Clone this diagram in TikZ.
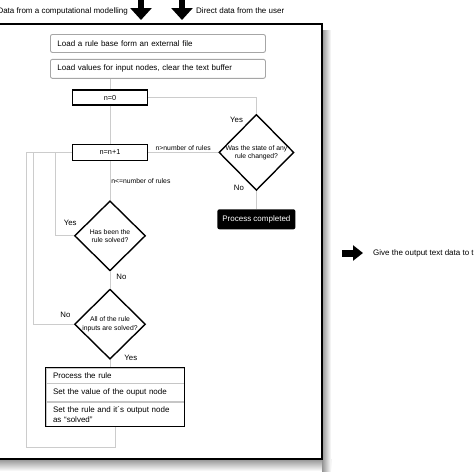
\documentclass[tikz,border=0pt]{standalone}
\usepackage{fontspec}
\setmainfont{Liberation Sans}
\usetikzlibrary{shapes.geometric, arrows.meta, positioning, fit, calc}
\tikzset{
    loadbox/.style={rectangle, rounded corners=2pt, draw=gray!70, line width=0.9pt, minimum width=215pt, minimum height=18pt, text width=201pt, inner xsep=7pt, inner ysep=0pt, align=left, font=\fontsize{8}{9}\selectfont},
    counter/.style={rectangle, draw=black, line width=1.4pt, minimum width=75pt, minimum height=15pt, inner sep=0pt, font=\fontsize{7.3}{8}\selectfont},
    decision/.style={diamond, draw=black, line width=1.4pt, minimum width=71pt, minimum height=70pt, inner sep=0pt},
    dtext/.style={align=center, inner sep=0pt, font=\fontsize{6.8}{8.2}\selectfont},
    finish/.style={rectangle, rounded corners=2pt, fill=black, text=white, minimum width=78pt, minimum height=20pt, inner sep=0pt, font=\fontsize{8}{9}\selectfont},
    rowbox/.style={rectangle, draw=gray!45, line width=0.7pt, minimum width=138pt, text width=124pt, inner xsep=7pt, inner ysep=0pt, align=left, font=\fontsize{8}{10}\selectfont},
    groupbox/.style={rectangle, draw=black, line width=1.4pt, inner sep=0pt},
    wire/.style={draw=gray!40, line width=0.9pt},
    cond/.style={inner sep=1pt, font=\fontsize{6.8}{8}\selectfont},
    yesno/.style={inner sep=1pt, font=\fontsize{7.8}{9}\selectfont},
    intext/.style={inner sep=1pt, font=\fontsize{8}{9}\selectfont},
    bigarrow/.style={line width=6pt, -{Triangle[width=21pt, length=12pt]}},
    sidearrow/.style={line width=7pt, -{Triangle[width=15pt, length=10pt]}}
}
\begin{document}
\begin{tikzpicture}[x=1pt, y=-1pt, node distance=6pt and 70pt]
    \useasboundingbox (0,0) rectangle (474,474);

    \shade [top color=gray!85, bottom color=white] (-5,459) rectangle (331,471);
    \shade [left color=gray!85, right color=white] (322,30) rectangle (331,471);
    \node (frame) [rectangle, draw=black, fill=white, line width=1.6pt, minimum width=325pt, minimum height=435pt] at (159.5,241.5) {};

    \node (modeltext) [intext, anchor=east] at (129,11) {Data from a computational modelling};
    \node (usertext) [intext, anchor=west] at (195,11) {Direct data from the user};
    \coordinate (modelin) at (141,-3);
    \coordinate (modelout) at (141,20);
    \coordinate (userin) at (182,-3);
    \coordinate (userout) at (182,20);
    \draw [bigarrow] (modelin) -- (modelout);
    \draw [bigarrow] (userin) -- (userout);

    \node (rulebase) [loadbox, anchor=north west] at (50,34) {Load a rule base form an external file};
    \node (loadinput) [loadbox, minimum height=19pt, below=of rulebase] {Load values for input nodes, clear the text buffer};

    \node (nzero) [counter] at (110,97.5) {n=0};
    \node (nnext) [counter, minimum height=16pt, below=38pt of nzero] {n=n+1};
    \node (changed) [decision, minimum width=75pt, minimum height=76pt, right=of nnext, label={[dtext]center:Was the state of any\\rule changed?}] {};
    \node (completed) [finish, below=18pt of changed] {Process completed};
    \node (solved) [decision, below=39pt of nnext, label={[dtext]center:Has been the\\rule solved?}] {};
    \node (inputs) [decision, below=17pt of solved, label={[dtext]center:All of the rule\\inputs are solved?}] {};

    \node (process) [rowbox, minimum height=15pt] at (115,375.5) {Process the rule};
    \node (setvalue) [rowbox, minimum height=18pt, below=0pt of process] {Set the value of the ouput node};
    \node (setsolved) [rowbox, minimum height=24pt, below=0pt of setvalue] {Set the rule and it´s output node\\as “solved”};
    \node (group) [groupbox, fit=(process)(setsolved)] {};

    \node (givetext) [intext, anchor=west] at (372,253) {Give the output text data to the user};
    \coordinate (givein) at (342,253);
    \draw [sidearrow] (givein) -- ($(givetext.west)+(-9pt,0)$);

    \draw [wire] (loadinput.south -| nzero) -- (nzero);
    \draw [wire] (nzero) -| node[yesno, pos=1, anchor=east, xshift=-12pt, yshift=-6pt] {Yes} (changed);
    \draw [wire] (nzero) -- (nnext);
    \draw [wire] (nnext) -- node[cond, above, midway] {n>number of rules} (changed);
    \draw [wire] (changed) -- node[yesno, pos=0, anchor=east, xshift=-11pt, yshift=3pt] {No} (completed);
    \draw [wire] (nnext) -- node[cond, right, midway] {n<=number of rules} (solved);
    \draw [wire] (solved) -- node[yesno, right, pos=0.3, xshift=5pt] {No} (inputs);
    \draw [wire] (solved.west) -- node[yesno, above, pos=0.2, yshift=9pt] {Yes} ++(-18,0) |- (nnext.west);
    \draw [wire] (inputs.west) -- node[yesno, above, pos=0.21, yshift=5.5pt] {No} ++(-40,0) |- (nnext.west);
    \draw [wire] (inputs) -- node[yesno, pos=0, anchor=west, xshift=13pt, yshift=2pt] {Yes} (inputs |- group.north);
    \draw [wire] (group.south) |- ++(-89,20) |- (nnext.west);
\end{tikzpicture}
\end{document}
